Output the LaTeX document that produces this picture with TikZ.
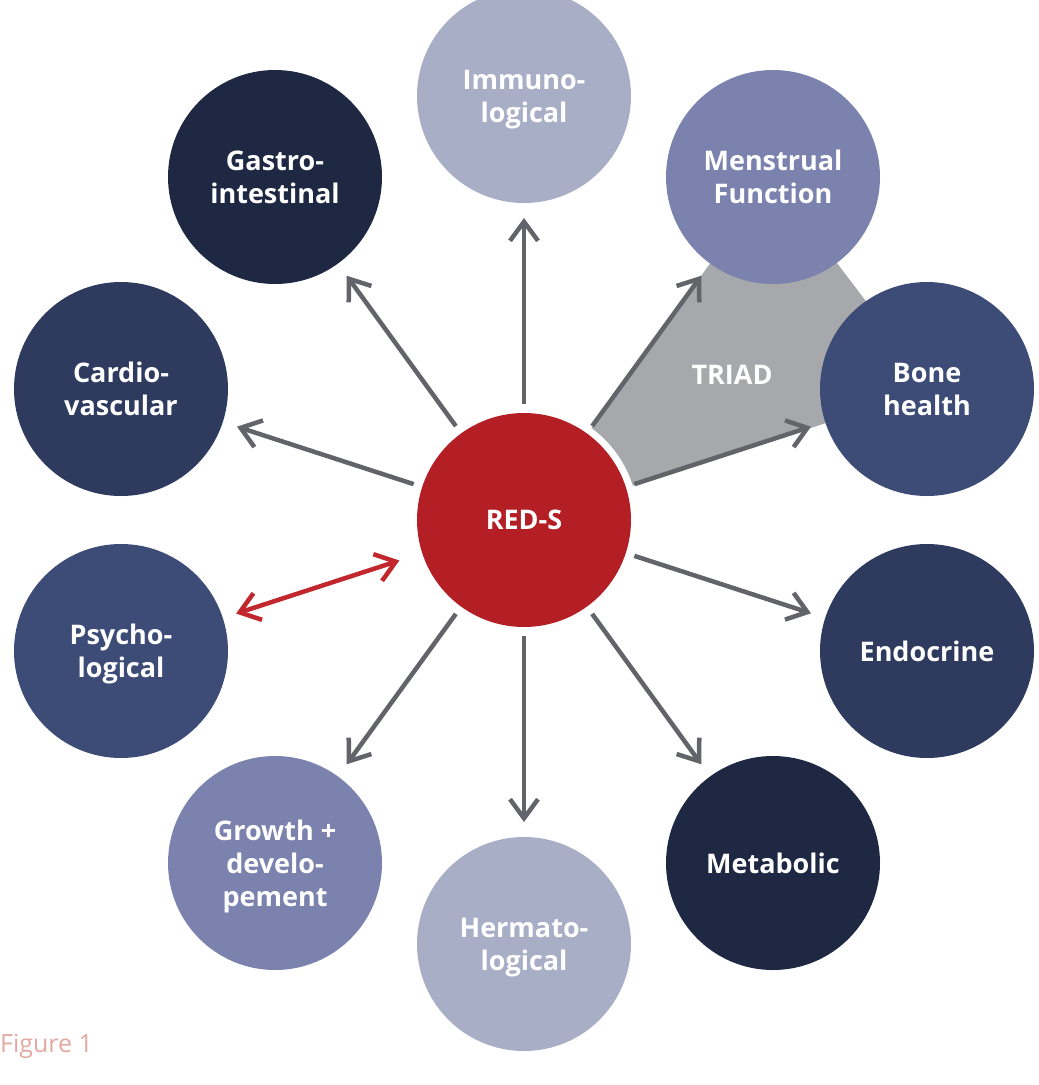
\documentclass[tikz,border=0pt]{standalone}
\usepackage{fontspec}
\setmainfont{Open Sans}
\usetikzlibrary{arrows.meta}
\definecolor{cNavyA}{HTML}{1E2842}
\definecolor{cNavyB}{HTML}{2F3B5E}
\definecolor{cNavyC}{HTML}{3D4B77}
\definecolor{cLav}{HTML}{7B82AE}
\definecolor{cLight}{HTML}{A9AEC7}
\definecolor{cRed}{HTML}{B31F24}
\definecolor{cRedLine}{HTML}{C1272D}
\definecolor{cArrow}{HTML}{636469}
\definecolor{cTriad}{HTML}{A6A8AB}
\definecolor{cFig}{HTML}{E2A9A2}
\begin{document}
\begin{tikzpicture}[x=1pt,y=-1pt,
  bubble/.style={circle, minimum size=214pt, inner sep=0pt, outer sep=0pt,
    text=white, font=\bfseries\fontsize{27}{33}\selectfont, align=center, text depth=0pt},
  multi/.style={text depth=-4pt},
  link/.style={draw=cArrow, line width=4.5pt, -{Straight Barb[length=19pt,width=28pt]},
    shorten <=9pt, shorten >=15pt},
  redlink/.style={draw=cRedLine, line width=4.5pt,
    {Straight Barb[length=19pt,width=28pt]}-{Straight Barb[length=19pt,width=28pt]},
    shorten <=14pt, shorten >=24pt}
]
\useasboundingbox (0,0) rectangle (1039,1085);
% triad background
\fill[cTriad] (590,430) -- (740,222) -- (815,234) -- (890,333) -- (860,412) -- (632,486) -- cycle;
% outer circles
\node[bubble, multi, fill=cLight] (imm) at (524,96) {Immuno-\\logical};
\node[bubble, multi, fill=cLav] (men) at (773,177) {Menstrual\\Function};
\node[bubble, multi, fill=cNavyC] (bone) at (927,389) {Bone\\health};
\node[bubble, fill=cNavyB] (endo) at (927,651) {Endocrine};
\node[bubble, fill=cNavyA] (meta) at (773,863) {Metabolic};
\node[bubble, multi, fill=cLight] (hem) at (524,944) {Hermato-\\logical};
\node[bubble, multi, fill=cLav] (grow) at (275,863) {Growth +\\develo-\\pement};
\node[bubble, multi, fill=cNavyC] (psy) at (121,651) {Psycho-\\logical};
\node[bubble, multi, fill=cNavyB] (card) at (121,389) {Cardio-\\vascular};
\node[bubble, multi, fill=cNavyA] (gast) at (275,177) {Gastro-\\intestinal};
% centre
\node[bubble, fill=cRed, preaction={draw=white, line width=14pt}] (red) at (524,520) {RED-S};
\node[text=white, font=\bfseries\fontsize{27}{33}\selectfont, inner sep=0pt] (triad) at (732,375) {TRIAD};
% connectors
\draw[link] (red) -- (imm);
\draw[link] (red) -- (men);
\draw[link] (red) -- (bone);
\draw[link] (red) -- (endo);
\draw[link] (red) -- (meta);
\draw[link] (red) -- (hem);
\draw[link] (red) -- (grow);
\draw[link] (red) -- (card);
\draw[link] (red) -- (gast);
\draw[redlink] (psy) -- (red);
% caption
\node[anchor=base west, text=cFig, font=\fontsize{25}{30}\selectfont, inner sep=0pt] (fig) at (0,1052) {Figure 1};
\end{tikzpicture}
\end{document}
